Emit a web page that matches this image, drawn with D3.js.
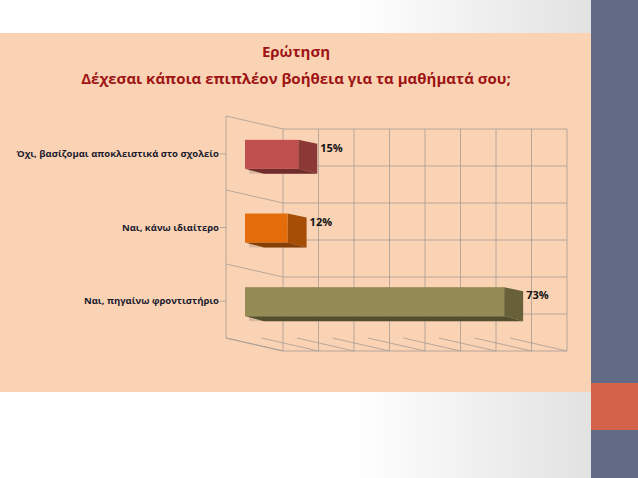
<!DOCTYPE html>
<html><head><meta charset="utf-8">
<script src="https://cdn.jsdelivr.net/npm/d3@7"></script>
<style>body{margin:0;background:#fff}svg{display:block;font-family:"Open Sans",sans-serif}</style>
</head><body><div id="chart"></div>
<script>
'use strict';

// Chart data
const categories = ['Όχι, βασίζομαι αποκλειστικά στο σχολείο', 'Ναι, κάνω ιδιαίτερο', 'Ναι, πηγαίνω φροντιστήριο'];
const values = [15, 12, 73];
const labels = ['15%', '12%', '73%'];
const fronts = ['#c0504d', '#e46c0a', '#948a54'];
const sides = ['#8c3836', '#a64e06', '#676039'];
const gridTicks = d3.range(0, 81, 10);

const W = 638, H = 478;
const svg = d3.select('#chart').append('svg').attr('width', W).attr('height', H);

// Slide background
const g0 = svg.append('defs').append('linearGradient').attr('id', 'wg').attr('x1', 0).attr('x2', 1);
g0.append('stop').attr('offset', '0.6').attr('stop-color', '#fff');
g0.append('stop').attr('offset', '1').attr('stop-color', '#e2e2e2');
svg.append('rect').attr('width', 591).attr('height', H).attr('fill', 'url(#wg)');
svg.append('rect').attr('y', 33).attr('width', 591).attr('height', 359).attr('fill', '#fad3b4');
svg.append('rect').attr('x', 591).attr('width', 47).attr('height', H).attr('fill', '#636a86');
svg.append('rect').attr('x', 591).attr('y', 383).attr('width', 47).attr('height', 47).attr('fill', '#d4614a');

// Title
svg.append('text').attr('x', 296).attr('y', 57).attr('text-anchor', 'middle')
    .attr('fill', '#9e1414').attr('font-size', 15).attr('font-weight', 'bold').text('Ερώτηση');
svg.append('text').attr('x', 296).attr('y', 84).attr('text-anchor', 'middle')
    .attr('fill', '#9e1414').attr('font-size', 15).attr('font-weight', 'bold')
    .text('Δέχεσαι κάποια επιπλέον βοήθεια για τα μαθήματά σου;');

// 3D frame geometry
const dx = 57, dy = 13;
const xBack = d3.scaleLinear().domain([0, 80]).range([283, 567]);
const xFront = d3.scaleLinear().domain([0, 80]).range([245, 529]);
const yBack = d3.scaleLinear().domain([0, 6]).range([129, 351]);
const yBand = d3.scaleBand().domain(categories).range([117, 338]);
const grid = svg.append('g').attr('stroke', '#a69c94').attr('stroke-width', 0.8).attr('fill', 'none');

gridTicks.forEach(t => {
    grid.append('line').attr('x1', xBack(t)).attr('x2', xBack(t)).attr('y1', yBack(0)).attr('y2', yBack(6));
    grid.append('line').attr('x1', xBack(t) - dx).attr('y1', yBack(6) - dy).attr('x2', xBack(t)).attr('y2', yBack(6));
});
d3.range(0, 7).forEach(r => {
    grid.append('line').attr('x1', xBack(0)).attr('x2', xBack(80)).attr('y1', yBack(r)).attr('y2', yBack(r));
});
[0, 2, 4, 6].forEach(r => {
    grid.append('line').attr('x1', xBack(0) - dx).attr('y1', yBack(r) - dy).attr('x2', xBack(0)).attr('y2', yBack(r));
});
grid.append('line').attr('x1', xBack(0) - dx).attr('x2', xBack(0) - dx).attr('y1', yBack(0) - dy).attr('y2', yBack(6) - dy);
categories.forEach(c => {
    const yc = yBand(c) + yBand.bandwidth() / 2;
    grid.append('line').attr('x1', xBack(0) - dx - 6).attr('x2', xBack(0) - dx).attr('y1', yc).attr('y2', yc);
});

// Bars
const bars = svg.append('g');
categories.forEach((c, i) => {
    const yc = yBand(c) + yBand.bandwidth() / 2;
    const top = yc - 14, bot = yc + 15;
    const x0 = xFront(0), x1 = xFront(values[i]);
    bars.append('rect').attr('x', x0 + 4).attr('y', top + 5).attr('width', x1 - x0 + 14).attr('height', bot - top)
        .attr('fill', '#000').attr('opacity', 0.12);
    bars.append('polygon').attr('fill', sides[i])
        .attr('points', [[x1, top], [x1 + 19, top + 4], [x1 + 19, bot + 5], [x1, bot]].join(' '));
    bars.append('polygon').attr('fill', d3.color(sides[i]).darker(0.6))
        .attr('points', [[x0, bot], [x1, bot], [x1 + 19, bot + 5], [x0 + 19, bot + 5]].join(' '));
    bars.append('rect').attr('x', x0).attr('y', top).attr('width', x1 - x0).attr('height', bot - top).attr('fill', fronts[i]);

    svg.append('text').attr('x', x1 + 22).attr('y', yc - 2).attr('font-size', 11).attr('font-weight', 'bold')
        .attr('fill', '#111').text(labels[i]);
    svg.append('text').attr('x', 219).attr('y', yc + 3).attr('text-anchor', 'end').attr('font-size', 9.5)
        .attr('font-weight', 'bold').attr('fill', '#1a1a2e').text(c);
});
</script></body></html>
